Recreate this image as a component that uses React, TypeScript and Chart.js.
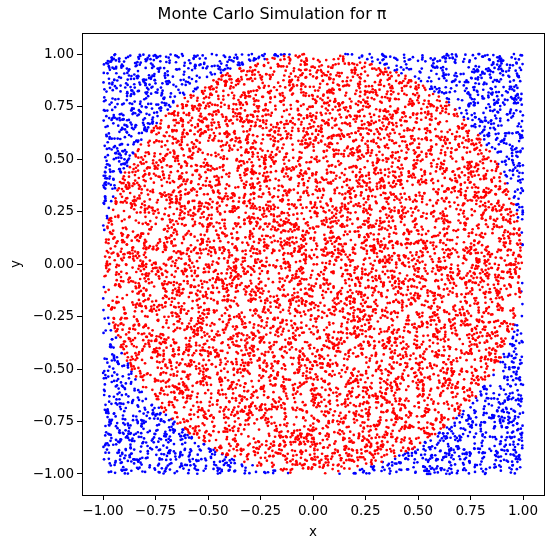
import React, { useEffect, useRef } from "react";
import { Chart, registerables } from "chart.js";

Chart.register(...registerables);

// Simulation settings (the reference is the output of a random sampling process;
// individual points cannot be read, so a fixed-seed sampler reproduces its look)
const SAMPLE_COUNT = 10000;
const SEED = 42;
const TICKS = [-1, -0.75, -0.5, -0.25, 0, 0.25, 0.5, 0.75, 1];
const AXIS_MIN = -1.1;
const AXIS_MAX = 1.1;
const TITLE = "Monte Carlo Simulation for π";
const X_LABEL = "x";
const Y_LABEL = "y";
const INSIDE_COLOR = "red";
const OUTSIDE_COLOR = "blue";

function mulberry32(a: number) {
  return function () {
    a |= 0;
    a = (a + 0x6d2b79f5) | 0;
    let t = Math.imul(a ^ (a >>> 15), 1 | a);
    t = (t + Math.imul(t ^ (t >>> 7), 61 | t)) ^ t;
    return ((t ^ (t >>> 14)) >>> 0) / 4294967296;
  };
}

const rand = mulberry32(SEED);
const insidePts: { x: number; y: number }[] = [];
const outsidePts: { x: number; y: number }[] = [];
for (let i = 0; i < SAMPLE_COUNT; i++) {
  const x = rand() * 2 - 1;
  const y = rand() * 2 - 1;
  if (x * x + y * y <= 1) insidePts.push({ x, y });
  else outsidePts.push({ x, y });
}

const FONT = "DejaVu Sans";
const fmt = (v: number) => v.toFixed(2).replace("-", "\u2212");

const boxPlugin = {
  id: "box",
  afterDraw(chart: any) {
    const { ctx, chartArea } = chart;
    ctx.save();
    ctx.strokeStyle = "#000";
    ctx.lineWidth = 1;
    ctx.strokeRect(
      Math.round(chartArea.left) + 0.5,
      Math.round(chartArea.top) + 0.5,
      Math.round(chartArea.right - chartArea.left),
      Math.round(chartArea.bottom - chartArea.top)
    );
    ctx.restore();
  },
};

export default function App() {
  const ref = useRef<HTMLCanvasElement | null>(null);
  useEffect(() => {
    if (!ref.current) return;
    const axisCommon = (title: string, pad: { top: number; bottom: number }) => ({
      type: "linear" as const,
      min: AXIS_MIN,
      max: AXIS_MAX,
      afterBuildTicks: (scale: any) => {
        scale.ticks = TICKS.map((v) => ({ value: v }));
      },
      ticks: {
        color: "#000",
        font: { family: FONT, size: 13.5 },
        callback: (v: any) => fmt(Number(v)),
        autoSkip: false,
        maxRotation: 0,
        padding: 3,
      },
      grid: {
        display: true,
        drawOnChartArea: false,
        drawTicks: true,
        tickLength: 5,
        color: "#000",
      },
      border: { display: false },
      title: {
        display: true,
        text: title,
        color: "#000",
        font: { family: FONT, size: 13.5 },
        padding: pad,
      },
    });
    const chart = new Chart(ref.current, {
      type: "scatter",
      data: {
        datasets: [
          {
            data: insidePts,
            backgroundColor: INSIDE_COLOR,
            borderWidth: 0,
            pointRadius: 1.35,
            pointHoverRadius: 1.35,
          },
          {
            data: outsidePts,
            backgroundColor: OUTSIDE_COLOR,
            borderWidth: 0,
            pointRadius: 1.35,
            pointHoverRadius: 1.35,
          },
        ],
      },
      options: {
        animation: false,
        responsive: false,
        layout: { padding: { left: 0, right: 9, top: 0, bottom: 0 } },
        plugins: {
          legend: { display: false },
          tooltip: { enabled: false },
          title: {
            display: true,
            text: TITLE,
            color: "#000",
            font: { family: FONT, size: 16, weight: "normal" },
            padding: { top: 5, bottom: 8.8 },
          },
        },
        scales: {
          x: {
            ...axisCommon(X_LABEL, { top: 4, bottom: 6 }),
            position: "bottom",
            afterFit: (s: any) => {
              s.height = 52;
            },
          },
          y: {
            ...axisCommon(Y_LABEL, { top: 8, bottom: 4 }),
            position: "left",
            afterFit: (s: any) => {
              s.width = 82;
            },
          },
        },
      },
      plugins: [boxPlugin],
    });
    return () => chart.destroy();
  }, []);
  return (
    <div style={{ position: "absolute", left: 0, top: 0, width: 553, height: 547, background: "#fff" }}>
      <canvas ref={ref} width={553} height={547} style={{ width: 553, height: 547 }} />
    </div>
  );
}
